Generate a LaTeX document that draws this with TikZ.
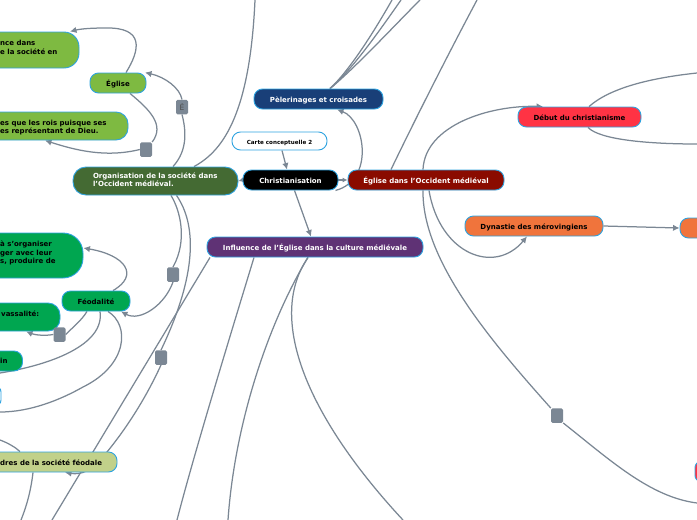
\documentclass[tikz,border=0pt]{standalone}
\usepackage{fontspec}
\setmainfont{DejaVu Sans}
\usepackage{xcolor}
\usetikzlibrary{calc}
\usetikzlibrary{positioning}
\usetikzlibrary{arrows.meta}
\usetikzlibrary{backgrounds}
\definecolor{link-gray}{RGB}{123, 135, 148}
\definecolor{edge-blue}{RGB}{46, 163, 224}
\definecolor{leaf-green}{RGB}{126, 186, 65}
\definecolor{deep-green}{RGB}{68, 106, 51}
\definecolor{feudal-green}{RGB}{0, 166, 80}
\definecolor{navy-blue}{RGB}{25, 63, 120}
\definecolor{dark-red}{RGB}{138, 11, 0}
\definecolor{royal-purple}{RGB}{95, 50, 117}
\definecolor{bright-red}{RGB}{255, 51, 68}
\definecolor{merov-orange}{RGB}{240, 116, 60}
\definecolor{pale-olive}{RGB}{193, 209, 138}
\tikzset{
  topic/.style={draw=edge-blue, line width=0.9pt, rounded corners=8.5pt, inner sep=0pt, minimum height=20pt, text height=6.5pt, text depth=0pt, font=\bfseries\fontsize{7}{8.4}\selectfont},
  cliptext/.style={anchor=west, inner sep=0pt, align=left, font=\bfseries\fontsize{7}{8.7}\selectfont},
  junction/.style={fill=link-gray, rounded corners=1.5pt, minimum width=12pt, minimum height=14.5pt, inner sep=0pt, font=\fontsize{7.5}{9}\selectfont},
  link/.style={draw=link-gray, line width=1.25pt},
  linkto/.style={link, -{Latex[length=6.5pt, width=6.5pt]}}
}
\begin{document}
\begin{tikzpicture}[x=1pt, y=-1pt]
    \useasboundingbox (0, 0) rectangle (697, 520);
    % free ends
    \coordinate (topa) at (392, 0);
    \coordinate (topb) at (401, 0);
    \coordinate (topc) at (420, 0);
    \coordinate (topd) at (477, 0);
    \coordinate (tope) at (255, 0);
    \coordinate (lefta) at (0, 373);
    \coordinate (leftc) at (0, 440);
    \coordinate (lowa) at (52, 520);
    \coordinate (lowb) at (21, 520);
    \coordinate (lowc) at (177, 520);
    \coordinate (lowd) at (228, 520);
    \coordinate (lowe) at (403, 520);
    \coordinate (righta) at (697, 73);
    \coordinate (rightb) at (697, 144);
    \coordinate (rightc) at (697, 503);

    % boxes
    \node[topic, fill=leaf-green, minimum width=139pt, minimum height=36pt, rounded corners=15pt] (influ) at (9.5, 50) {};
    \node[cliptext] (influtxt) at (0, 47.2) {nce dans\\e la société en};
    \node[topic, fill=leaf-green, minimum width=56pt] (eglise) at (118, 83) {Église};
    \node[topic, fill=leaf-green, minimum width=188pt, minimum height=28pt, rounded corners=12pt] (rois) at (34, 126) {};
    \node[cliptext] (roistxt) at (0, 127.5) {es que les rois puisque ses\\es représentant de Dieu.};
    \node[topic, fill=deep-green, text=white, minimum width=165pt, minimum height=28pt, rounded corners=13pt, text width=125pt, align=left, text height=4.5pt, text depth=9.5pt] (orga) at (155.5, 181) {Organisation de la société dans\\l'Occident médiéval.};
    \node[topic, fill=white, minimum width=95pt, minimum height=18pt, font=\bfseries\fontsize{5.6}{7}\selectfont] (carte) at (279.5, 141) {Carte conceptuelle 2};
    \node[topic, fill=black, text=white, minimum width=95pt] (chris) at (290.5, 180) {Christianisation};
    \node[topic, fill=navy-blue, text=white, minimum width=129pt] (peler) at (318.5, 99) {Pèlerinages et croisades};
    \node[topic, fill=dark-red, text=white, minimum width=156pt] (occid) at (426, 180) {Église dans l'Occident médiéval};
    \node[topic, fill=royal-purple, text=white, minimum width=216pt] (cult) at (315, 247) {Influence de l'Église dans la culture médiévale};
    \node[topic, fill=bright-red, minimum width=123pt] (debut) at (579.5, 117) {Début du christianisme};
    \node[topic, fill=merov-orange, minimum width=138pt] (dynas) at (534, 226) {Dynastie des mérovingiens};
    \node[topic, fill=merov-orange, minimum width=80pt] (suite) at (720, 228) {};
    \node[topic, fill=feudal-green, minimum width=68pt] (feoda) at (96, 301) {Féodalité};
    \node[topic, fill=feudal-green, minimum width=143pt, minimum height=45pt, rounded corners=20pt] (orgfeo) at (11.5, 255.5) {};
    \node[cliptext] (orgfeotxt) at (0, 253) {à s'organiser\\ger avec leur\\s, produire de};
    \node[topic, fill=feudal-green, minimum width=120pt, minimum height=28pt, rounded corners=12pt] (vassal) at (0, 317) {};
    \node[cliptext] (vassaltxt) at (1, 313.5) {vassalité:};
    \node[topic, fill=feudal-green, minimum width=82.5pt] (terrain) at (-18.75, 361) {};
    \node[cliptext] (terraintxt) at (0, 361) {in};
    \node[topic, fill=white, minimum width=61pt, minimum height=20pt, rounded corners=6pt] (hors) at (-29.5, 396) {};
    \node[topic, fill=pale-olive, minimum width=177pt] (cadres) at (28.5, 462) {};
    \node[cliptext] (cadrestxt) at (0, 462.5) {dres de la société féodale};
    \node[topic, fill=bright-red, minimum width=60pt, minimum height=20pt, rounded corners=6pt] (rouge) at (725, 471.5) {};

    % junctions
    \node[junction, text=black!70] (jegl) at (182, 107) {É};
    \node[junction] (jroi) at (146, 149.5) {};
    \node[junction] (jfeo) at (173, 274.5) {};
    \node[junction] (jvas) at (59.5, 334.5) {};
    \node[junction] (jcad) at (161, 357.5) {};
    \node[junction] (jmid) at (557, 415.5) {};

    \begin{scope}[on background layer]
        % left side
        \draw[linkto] ([xshift=8pt]eglise.north) .. controls (140, 50) and (145, 27) .. (105, 28) .. controls (90, 28) and (80, 29) .. ([xshift=60.5pt]influ.north);
        \draw[link] ([xshift=17.5pt]orga.north) .. controls (188, 150) and (186, 130) .. (jegl.south);
        \draw[linkto] (jegl.north) .. controls (180, 88) and (165, 77) .. ([xshift=27pt]eglise.north);
        \draw[link] ([xshift=12pt]eglise.south) .. controls (150, 110) and (165, 125) .. (jroi.north east);
        \draw[linkto] (jroi.west) .. controls (105, 158) and (75, 150) .. ([xshift=11pt]rois.south);
        \draw[link] ([xshift=38.5pt]orga.north) .. controls (225, 150) and (250, 110) .. (tope);
        \draw[link] ([xshift=15.5pt]orga.south) .. controls (180, 210) and (188, 240) .. (jfeo.north);
        \draw[linkto] (jfeo.south) .. controls (165, 305) and (140, 322) .. ([xshift=25pt]feoda.south);
        \draw[link] ([xshift=21pt]orga.south) .. controls (197, 225) and (197, 275) .. (jcad.north);
        \draw[linkto] (jcad.south) .. controls (145, 400) and (125, 430) .. (107, 452) .. controls (100, 462) and (88, 476) .. ([xshift=36.5pt]cadres.south);
        \draw[linkto] ([xshift=17pt]feoda.north) .. controls (140, 275) and (125, 255) .. ([yshift=7.5pt]orgfeo.east);
        \draw[link] ([xshift=-9pt]feoda.south) .. controls (82, 320) and (72, 328) .. (jvas.east);
        \draw[linkto] (jvas.west) .. controls (45, 336) and (35, 335) .. ([xshift=26pt]vassal.south);
        \draw[link] ([xshift=4pt]feoda.south) .. controls (105, 345) and (50, 365) .. (lefta);
        \draw[link] ([xshift=12pt]feoda.south) .. controls (130, 325) and (128, 365) .. (83, 387) .. controls (60, 400) and (30, 412) .. (0, 412);
        \draw[link] ([xshift=-8.5pt]cadres.north) .. controls (15, 447) and (8, 443) .. (leftc);
        \draw[link] ([xshift=4.5pt]cadres.south) .. controls (31, 490) and (27, 505) .. (lowb);
        % under the culture box
        \draw[link] ([xshift=-105pt]cult.south) -- (lowa);
        \draw[link] ([xshift=-61pt]cult.south) .. controls (235, 320) and (195, 450) .. (lowc);
        \draw[link] ([xshift=-7pt]cult.south) .. controls (270, 320) and (235, 420) .. (lowd);
        \draw[link] ([xshift=-7pt]cult.south) .. controls (265, 320) and (310, 420) .. (lowe);
        % centre
        \draw[linkto, -{Latex[length=5pt, width=5pt]}] (chris.west) -- (orga.east);
        \draw[linkto, -{Latex[length=5pt, width=5pt]}] (chris.east) -- (occid.west);
        \draw[linkto] ([xshift=2.5pt]carte.south) -- ([xshift=-3.5pt]chris.north);
        \draw[linkto] ([xshift=4pt]chris.south) -- ([xshift=-4pt]cult.north);
        \draw[linkto] ([xshift=45pt]chris.south) .. controls (375, 180) and (365, 120) .. ([xshift=18.5pt]peler.south);
        \draw[link] ([xshift=11.5pt]peler.north) .. controls (350, 70) and (375, 30) .. (topa);
        \draw[link] ([xshift=11.5pt]peler.north) .. controls (352, 70) and (380, 30) .. (topb);
        \draw[link] ([xshift=11.5pt]peler.north) .. controls (355, 68) and (395, 25) .. (topc);
        % right side
        \draw[link] ([xshift=-35pt]occid.north) .. controls (410, 130) and (445, 60) .. (topd);
        \draw[link] ([xshift=-3pt]occid.south) .. controls (422, 260) and (490, 340) .. (jmid.north west);
        \draw[link] (jmid.south east) .. controls (610, 460) and (650, 497) .. (rightc);
        \draw[linkto] ([xshift=3pt]occid.south) .. controls (440, 255) and (495, 275) .. ([xshift=-7pt]dynas.south);
        \draw[linkto] ([xshift=-3pt]occid.north) .. controls (425, 125) and (490, 105) .. ([xshift=-36.5pt]debut.north);
        \draw[link] ([xshift=9.5pt]debut.north) .. controls (610, 88) and (650, 78) .. (righta);
        \draw[link] ([xshift=8.5pt]debut.south) .. controls (600, 140) and (650, 144) .. (rightb);
        \draw[linkto] (dynas.east) -- (suite.west);
    \end{scope}
\end{tikzpicture}
\end{document}
